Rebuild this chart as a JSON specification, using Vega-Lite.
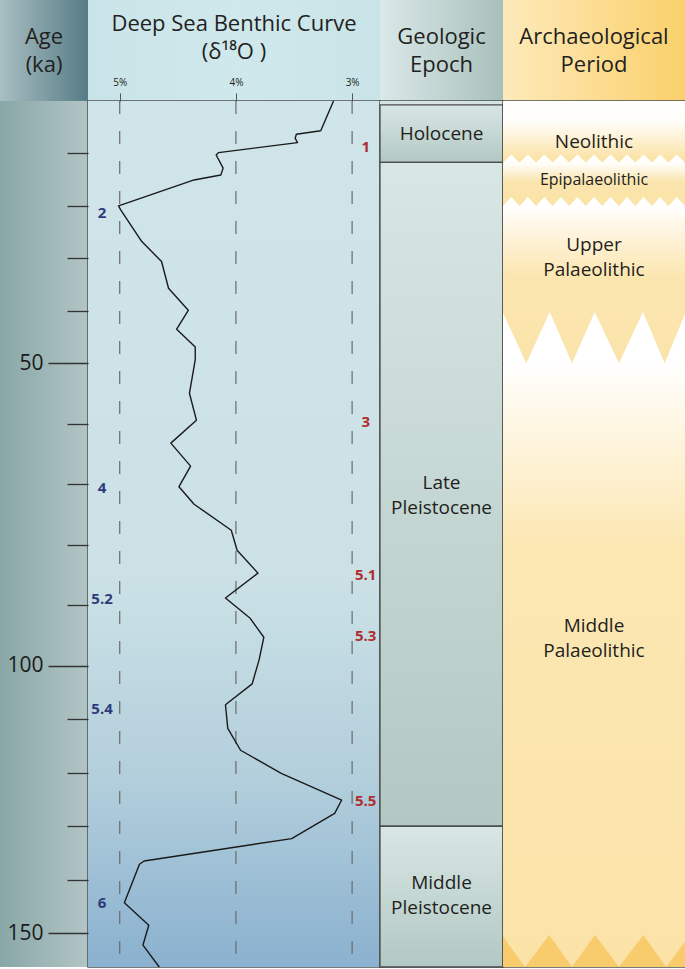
{
  "$schema": "https://vega.github.io/schema/vega-lite/v6.json",
  "padding": 0,
  "background": "#ffffff",
  "columns": 4,
  "spacing": 0,
  "bounds": "flush",
  "align": "each",
  "config": {
    "view": {"stroke": "#4d4d4d", "strokeWidth": 1.5},
    "text": {"font": "Open Sans", "color": "#231f20"},
    "axis": {"labelFont": "Open Sans"}
  },
  "concat": [
    {
      "width": 88, "height": 101,
      "data": {"values": [{"t": "Age", "n": 1}, {"t": "(ka)", "n": 2}]},
      "layer": [
        {"transform": [{"filter": "datum.n === 1"}], "mark": {"type": "rect", "fill": {"gradient": "linear", "x1": 0, "y1": 0, "x2": 1, "y2": 0, "stops": [{"offset": 0, "color": "#a9bfc3"}, {"offset": 1, "color": "#567c85"}]}}, "encoding": {}},
        {"transform": [{"filter": "datum.n === 1"}], "mark": {"type": "text", "fontSize": 22, "align": "center", "baseline": "middle", "dy": -13.5}, "encoding": {"text": {"field": "t"}}},
        {"transform": [{"filter": "datum.n === 2"}], "mark": {"type": "text", "fontSize": 22, "align": "center", "baseline": "middle", "dy": 14.5}, "encoding": {"text": {"field": "t"}}}
      ]
    },
    {
      "width": 292, "height": 101,
      "data": {"values": [{"t": "Deep Sea Benthic Curve", "n": 1}, {"t": "(δ¹⁸O )", "n": 2}]},
      "layer": [
        {"transform": [{"filter": "datum.n === 1"}], "mark": {"type": "rect", "fill": {"gradient": "linear", "x1": 0, "y1": 0, "x2": 1, "y2": 0, "stops": [{"offset": 0, "color": "#c9e4e8"}, {"offset": 0.5, "color": "#cfe8ec"}, {"offset": 1, "color": "#c9e4e8"}]}}, "encoding": {}},
        {"transform": [{"filter": "datum.n === 1"}], "mark": {"type": "text", "fontSize": 22, "align": "center", "baseline": "middle", "dy": -26.5}, "encoding": {"text": {"field": "t"}}},
        {"transform": [{"filter": "datum.n === 2"}], "mark": {"type": "text", "fontSize": 22, "align": "center", "baseline": "middle", "dy": 1.5}, "encoding": {"text": {"field": "t"}}}
      ]
    },
    {
      "width": 123, "height": 101,
      "data": {"values": [{"t": "Geologic", "n": 1}, {"t": "Epoch", "n": 2}]},
      "layer": [
        {"transform": [{"filter": "datum.n === 1"}], "mark": {"type": "rect", "fill": {"gradient": "linear", "x1": 0, "y1": 0, "x2": 1, "y2": 0, "stops": [{"offset": 0, "color": "#dae9e9"}, {"offset": 1, "color": "#a8c0bb"}]}}, "encoding": {}},
        {"transform": [{"filter": "datum.n === 1"}], "mark": {"type": "text", "fontSize": 22, "align": "center", "baseline": "middle", "dy": -13.5}, "encoding": {"text": {"field": "t"}}},
        {"transform": [{"filter": "datum.n === 2"}], "mark": {"type": "text", "fontSize": 22, "align": "center", "baseline": "middle", "dy": 14.5}, "encoding": {"text": {"field": "t"}}}
      ]
    },
    {
      "width": 182, "height": 101,
      "data": {"values": [{"t": "Archaeological", "n": 1}, {"t": "Period", "n": 2}]},
      "layer": [
        {"transform": [{"filter": "datum.n === 1"}], "mark": {"type": "rect", "fill": {"gradient": "linear", "x1": 0, "y1": 0, "x2": 1, "y2": 0, "stops": [{"offset": 0, "color": "#fdeabb"}, {"offset": 1, "color": "#fad06b"}]}}, "encoding": {}},
        {"transform": [{"filter": "datum.n === 1"}], "mark": {"type": "text", "fontSize": 22, "align": "center", "baseline": "middle", "dy": -13.5}, "encoding": {"text": {"field": "t"}}},
        {"transform": [{"filter": "datum.n === 2"}], "mark": {"type": "text", "fontSize": 22, "align": "center", "baseline": "middle", "dy": 14.5}, "encoding": {"text": {"field": "t"}}}
      ]
    },
    {
      "width": 88, "height": 866,
      "data": {"values": [{"k": 0}]},
      "mark": {"type": "rect", "fill": {"gradient": "linear", "x1": 0, "y1": 0, "x2": 1, "y2": 0, "stops": [{"offset": 0, "color": "#88a7a6"}, {"offset": 1, "color": "#b2c4c6"}]}},
      "encoding": {}
    },
    {
      "width": 292, "height": 866,
      "layer": [
        {"data": {"values": [{"k": 0}]}, "mark": {"type": "rect", "fill": {"gradient": "linear", "x1": 0, "y1": 0, "x2": 0, "y2": 1, "stops": [{"offset": 0, "color": "#cfe5e9"}, {"offset": 0.55, "color": "#cbe1e6"}, {"offset": 0.78, "color": "#b3cfdc"}, {"offset": 1, "color": "#8ab1cf"}]}}, "encoding": {}},
        {"data": {"values": [{"d18O": 5}, {"d18O": 4}, {"d18O": 3}]},
         "mark": {"type": "rule", "color": "#6b6b6b", "strokeWidth": 1.2, "strokeDash": [13, 17]},
         "encoding": {"x": {"field": "d18O", "type": "quantitative", "scale": {"domain": [2.76, 5.273], "reverse": true, "nice": false, "zero": false},
                 "axis": {"orient": "top", "values": [5, 4, 3], "labelExpr": "datum.value + '%'", "tickSize": 8, "tickColor": "#555555", "tickWidth": 1, "labelPadding": 6, "labelFontSize": 10, "labelColor": "#231f20", "domain": false, "grid": false, "title": null, "labelFlush": false, "zindex": 2}}}},
        {"data": {"values": [
          {"age": 0, "d18O": 3.16}, {"age": 5.66, "d18O": 3.27}, {"age": 6.35, "d18O": 3.48}, {"age": 7.1, "d18O": 3.49},
          {"age": 7.94, "d18O": 3.47}, {"age": 9.84, "d18O": 4.15}, {"age": 10.3, "d18O": 4.17}, {"age": 12.8, "d18O": 4.11},
          {"age": 14.1, "d18O": 4.13}, {"age": 15.05, "d18O": 4.36}, {"age": 20.0, "d18O": 5.01}, {"age": 20.8, "d18O": 4.99},
          {"age": 26.8, "d18O": 4.81}, {"age": 30.6, "d18O": 4.64}, {"age": 35.7, "d18O": 4.58}, {"age": 39.9, "d18O": 4.41},
          {"age": 43.5, "d18O": 4.51}, {"age": 46.9, "d18O": 4.35}, {"age": 49.3, "d18O": 4.35}, {"age": 54.96, "d18O": 4.4},
          {"age": 59.4, "d18O": 4.34}, {"age": 63.2, "d18O": 4.56}, {"age": 67.0, "d18O": 4.39}, {"age": 70.4, "d18O": 4.49},
          {"age": 73.3, "d18O": 4.36}, {"age": 77.6, "d18O": 4.04}, {"age": 80.9, "d18O": 3.99}, {"age": 84.7, "d18O": 3.81},
          {"age": 88.8, "d18O": 4.09}, {"age": 92.1, "d18O": 3.88}, {"age": 95.3, "d18O": 3.76}, {"age": 99.0, "d18O": 3.8},
          {"age": 103.4, "d18O": 3.86}, {"age": 107.3, "d18O": 4.09}, {"age": 111.7, "d18O": 4.07}, {"age": 115.8, "d18O": 3.96},
          {"age": 120.1, "d18O": 3.61}, {"age": 125.1, "d18O": 3.09}, {"age": 127.6, "d18O": 3.15}, {"age": 132.3, "d18O": 3.52},
          {"age": 136.5, "d18O": 4.79}, {"age": 137.1, "d18O": 4.83}, {"age": 144.3, "d18O": 4.96}, {"age": 148.5, "d18O": 4.75},
          {"age": 152.2, "d18O": 4.8}, {"age": 156.3, "d18O": 4.66}
         ]},
         "mark": {"type": "line", "color": "#1a1a1a", "strokeWidth": 1.4, "strokeJoin": "round"},
         "encoding": {
           "x": {"field": "d18O", "type": "quantitative", "scale": {"domain": [2.76, 5.273], "reverse": true, "nice": false, "zero": false},
                 "axis": {"orient": "top", "values": [5, 4, 3], "labelExpr": "datum.value + '%'", "tickSize": 8, "tickColor": "#555555", "tickWidth": 1, "labelPadding": 6, "labelFontSize": 10, "labelColor": "#231f20", "domain": false, "grid": false, "title": null, "labelFlush": false, "zindex": 2}},
           "y": {"field": "age", "type": "quantitative", "scale": {"domain": [0, 50, 100, 150, 156.3], "range": [0, 262.3, 564.7, 832.3, 866], "nice": false, "zero": false},
                 "axis": {"orient": "left", "values": [10, 20, 30, 40, 50, 60, 70, 80, 90, 100, 110, 120, 130, 140, 150], "labelExpr": "datum.value % 50 === 0 ? datum.label : ''", "tickSize": {"condition": {"test": "datum.value % 50 === 0", "value": 40}, "value": 21}, "tickColor": "#333333", "tickWidth": 1.3, "labelPadding": 5, "labelFontSize": 21, "labelColor": "#1a1a1a", "domain": false, "grid": false, "title": null, "labelFlush": false, "labelOverlap": false, "zindex": 2}},
           "order": {"field": "age", "type": "quantitative"}
         }},
        {"data": {"values": [
          {"label": "1", "age": 8.8, "d18O": 2.883, "kind": "warm"},
          {"label": "2", "age": 21.3, "d18O": 5.152, "kind": "cold"},
          {"label": "3", "age": 59.75, "d18O": 2.883, "kind": "warm"},
          {"label": "4", "age": 70.6, "d18O": 5.152, "kind": "cold"},
          {"label": "5.1", "age": 85.0, "d18O": 2.883, "kind": "warm"},
          {"label": "5.2", "age": 89.0, "d18O": 5.152, "kind": "cold"},
          {"label": "5.3", "age": 95.1, "d18O": 2.883, "kind": "warm"},
          {"label": "5.4", "age": 108.1, "d18O": 5.152, "kind": "cold"},
          {"label": "5.5", "age": 125.2, "d18O": 2.883, "kind": "warm"},
          {"label": "6", "age": 144.4, "d18O": 5.152, "kind": "cold"}
         ]},
         "mark": {"type": "text", "fontWeight": "bold", "fontSize": 15, "align": "center", "baseline": "middle"},
         "encoding": {
           "x": {"field": "d18O", "type": "quantitative", "scale": {"domain": [2.76, 5.273], "reverse": true, "nice": false, "zero": false},
                 "axis": {"orient": "top", "values": [5, 4, 3], "labelExpr": "datum.value + '%'", "tickSize": 8, "tickColor": "#555555", "tickWidth": 1, "labelPadding": 6, "labelFontSize": 10, "labelColor": "#231f20", "domain": false, "grid": false, "title": null, "labelFlush": false, "zindex": 2}},
           "y": {"field": "age", "type": "quantitative", "scale": {"domain": [0, 50, 100, 150, 156.3], "range": [0, 262.3, 564.7, 832.3, 866], "nice": false, "zero": false},
                 "axis": {"orient": "left", "values": [10, 20, 30, 40, 50, 60, 70, 80, 90, 100, 110, 120, 130, 140, 150], "labelExpr": "datum.value % 50 === 0 ? datum.label : ''", "tickSize": {"condition": {"test": "datum.value % 50 === 0", "value": 40}, "value": 21}, "tickColor": "#333333", "tickWidth": 1.3, "labelPadding": 5, "labelFontSize": 21, "labelColor": "#1a1a1a", "domain": false, "grid": false, "title": null, "labelFlush": false, "labelOverlap": false, "zindex": 2}},
           "text": {"field": "label"},
           "color": {"field": "kind", "type": "nominal", "scale": {"domain": ["warm", "cold"], "range": ["#b02e2e", "#2e3b7b"]}, "legend": null}
         }}
      ]
    },
    {
      "width": 123, "height": 866,
      "layer": [
        {"data": {"values": [{"k": 0}]}, "mark": {"type": "rect", "fill": "#d6e4e3"}, "encoding": {}},
        {"data": {"values": [
          {"epoch": "Holocene", "start": 0.75, "end": 11.7},
          {"epoch": "Late Pleistocene", "start": 11.7, "end": 130},
          {"epoch": "Middle Pleistocene", "start": 130, "end": 156.3}
         ]},
         "mark": {"type": "rect", "stroke": "#4d4d4d", "strokeWidth": 1.3, "fill": {"gradient": "linear", "x1": 0, "y1": 0, "x2": 0, "y2": 1, "stops": [{"offset": 0, "color": "#d8e6e4"}, {"offset": 1, "color": "#b2c8c3"}]}},
         "encoding": {
           "y": {"field": "start", "type": "quantitative", "scale": {"domain": [0, 50, 100, 150, 156.3], "range": [0, 262.3, 564.7, 832.3, 866], "nice": false, "zero": false}, "axis": null},
           "y2": {"field": "end"}
         }},
        {"data": {"values": [
          {"name": "Holocene", "age": 6.2},
          {"name": "Late\nPleistocene", "age": 69.8},
          {"name": "Middle\nPleistocene", "age": 140.6}
         ]},
         "mark": {"type": "text", "fontSize": 19, "lineBreak": "\n", "lineHeight": 25, "align": "center", "baseline": "middle"},
         "encoding": {
           "y": {"field": "age", "type": "quantitative", "scale": {"domain": [0, 50, 100, 150, 156.3], "range": [0, 262.3, 564.7, 832.3, 866], "nice": false, "zero": false}, "axis": null},
           "text": {"field": "name"}
         }}
      ]
    },
    {
      "width": 182, "height": 866,
      "layer": [
        {"data": {"values": [{"period": "Neolithic", "start": 0, "end": 11.7}]},
         "mark": {"type": "rect", "fill": {"gradient": "linear", "x1": 0, "y1": 0, "x2": 0, "y2": 1, "stops": [{"offset": 0, "color": "#ffffff"}, {"offset": 0.35, "color": "#fffdf8"}, {"offset": 0.95, "color": "#fbe3a6"}, {"offset": 1, "color": "#fbe3a6"}]}},
         "encoding": {"y": {"field": "start", "type": "quantitative", "scale": {"domain": [0, 50, 100, 150, 156.3], "range": [0, 262.3, 564.7, 832.3, 866], "nice": false, "zero": false}, "axis": null}, "y2": {"field": "end"}}},
        {"data": {"values": [{"period": "Epipalaeolithic", "start": 11.7, "end": 20}]},
         "mark": {"type": "rect", "fill": {"gradient": "linear", "x1": 0, "y1": 0, "x2": 0, "y2": 1, "stops": [{"offset": 0, "color": "#ffffff"}, {"offset": 0.45, "color": "#fbe5ae"}, {"offset": 1, "color": "#fbe3a6"}]}},
         "encoding": {"y": {"field": "start", "type": "quantitative", "scale": {"domain": [0, 50, 100, 150, 156.3], "range": [0, 262.3, 564.7, 832.3, 866], "nice": false, "zero": false}, "axis": null}, "y2": {"field": "end"}}},
        {"data": {"values": [{"period": "Upper Palaeolithic", "start": 20, "end": 50}]},
         "mark": {"type": "rect", "fill": {"gradient": "linear", "x1": 0, "y1": 0, "x2": 0, "y2": 1, "stops": [{"offset": 0, "color": "#ffffff"}, {"offset": 0.1, "color": "#fff8ea"}, {"offset": 0.45, "color": "#fce6b0"}, {"offset": 1, "color": "#fbe4ab"}]}},
         "encoding": {"y": {"field": "start", "type": "quantitative", "scale": {"domain": [0, 50, 100, 150, 156.3], "range": [0, 262.3, 564.7, 832.3, 866], "nice": false, "zero": false}, "axis": null}, "y2": {"field": "end"}}},
        {"data": {"values": [{"period": "Middle Palaeolithic", "start": 50, "end": 156.3}]},
         "mark": {"type": "rect", "fill": {"gradient": "linear", "x1": 0, "y1": 0, "x2": 0, "y2": 1, "stops": [{"offset": 0, "color": "#ffffff"}, {"offset": 0.03, "color": "#fffcf5"}, {"offset": 0.3, "color": "#fce7b3"}, {"offset": 1, "color": "#fbe3a8"}]}},
         "encoding": {"y": {"field": "start", "type": "quantitative", "scale": {"domain": [0, 50, 100, 150, 156.3], "range": [0, 262.3, 564.7, 832.3, 866], "nice": false, "zero": false}, "axis": null}, "y2": {"field": "end"}}},
        {"data": {"values": [
          {"zig": "n", "pos": 0, "age": 11.7, "base": 11.7}, {"zig": "n", "pos": 4.545, "age": 10.2, "base": 11.7},
          {"zig": "n", "pos": 9.091, "age": 11.7, "base": 11.7}, {"zig": "n", "pos": 13.636, "age": 10.2, "base": 11.7},
          {"zig": "n", "pos": 18.182, "age": 11.7, "base": 11.7}, {"zig": "n", "pos": 22.727, "age": 10.2, "base": 11.7},
          {"zig": "n", "pos": 27.273, "age": 11.7, "base": 11.7}, {"zig": "n", "pos": 31.818, "age": 10.2, "base": 11.7},
          {"zig": "n", "pos": 36.364, "age": 11.7, "base": 11.7}, {"zig": "n", "pos": 40.909, "age": 10.2, "base": 11.7},
          {"zig": "n", "pos": 45.455, "age": 11.7, "base": 11.7}, {"zig": "n", "pos": 50, "age": 10.2, "base": 11.7},
          {"zig": "n", "pos": 54.545, "age": 11.7, "base": 11.7}, {"zig": "n", "pos": 59.091, "age": 10.2, "base": 11.7},
          {"zig": "n", "pos": 63.636, "age": 11.7, "base": 11.7}, {"zig": "n", "pos": 68.182, "age": 10.2, "base": 11.7},
          {"zig": "n", "pos": 72.727, "age": 11.7, "base": 11.7}, {"zig": "n", "pos": 77.273, "age": 10.2, "base": 11.7},
          {"zig": "n", "pos": 81.818, "age": 11.7, "base": 11.7}, {"zig": "n", "pos": 86.364, "age": 10.2, "base": 11.7},
          {"zig": "n", "pos": 90.909, "age": 11.7, "base": 11.7}, {"zig": "n", "pos": 95.455, "age": 10.2, "base": 11.7},
          {"zig": "n", "pos": 100, "age": 11.7, "base": 11.7},
          {"zig": "e", "pos": 0, "age": 20, "base": 20}, {"zig": "e", "pos": 4.545, "age": 18.3, "base": 20},
          {"zig": "e", "pos": 9.091, "age": 20, "base": 20}, {"zig": "e", "pos": 13.636, "age": 18.3, "base": 20},
          {"zig": "e", "pos": 18.182, "age": 20, "base": 20}, {"zig": "e", "pos": 22.727, "age": 18.3, "base": 20},
          {"zig": "e", "pos": 27.273, "age": 20, "base": 20}, {"zig": "e", "pos": 31.818, "age": 18.3, "base": 20},
          {"zig": "e", "pos": 36.364, "age": 20, "base": 20}, {"zig": "e", "pos": 40.909, "age": 18.3, "base": 20},
          {"zig": "e", "pos": 45.455, "age": 20, "base": 20}, {"zig": "e", "pos": 50, "age": 18.3, "base": 20},
          {"zig": "e", "pos": 54.545, "age": 20, "base": 20}, {"zig": "e", "pos": 59.091, "age": 18.3, "base": 20},
          {"zig": "e", "pos": 63.636, "age": 20, "base": 20}, {"zig": "e", "pos": 68.182, "age": 18.3, "base": 20},
          {"zig": "e", "pos": 72.727, "age": 20, "base": 20}, {"zig": "e", "pos": 77.273, "age": 18.3, "base": 20},
          {"zig": "e", "pos": 81.818, "age": 20, "base": 20}, {"zig": "e", "pos": 86.364, "age": 18.3, "base": 20},
          {"zig": "e", "pos": 90.909, "age": 20, "base": 20}, {"zig": "e", "pos": 95.455, "age": 18.3, "base": 20},
          {"zig": "e", "pos": 100, "age": 20, "base": 20},
          {"zig": "u", "pos": 0, "age": 40.4, "base": 50}, {"zig": "u", "pos": 12.8, "age": 50, "base": 50},
          {"zig": "u", "pos": 25.7, "age": 40.2, "base": 50}, {"zig": "u", "pos": 37.9, "age": 50, "base": 50},
          {"zig": "u", "pos": 50.4, "age": 40.2, "base": 50}, {"zig": "u", "pos": 63.7, "age": 50, "base": 50},
          {"zig": "u", "pos": 76.9, "age": 40.2, "base": 50}, {"zig": "u", "pos": 88.8, "age": 50, "base": 50},
          {"zig": "u", "pos": 100, "age": 40.6, "base": 50}
         ]},
         "mark": {"type": "area", "color": "#ffffff", "opacity": 1, "interpolate": "linear"},
         "encoding": {
           "x": {"field": "pos", "type": "quantitative", "scale": {"domain": [0, 100], "nice": false, "zero": false}, "axis": null},
           "y": {"field": "age", "type": "quantitative", "scale": {"domain": [0, 50, 100, 150, 156.3], "range": [0, 262.3, 564.7, 832.3, 866], "nice": false, "zero": false}, "axis": null},
           "y2": {"field": "base"},
           "detail": {"field": "zig"}
         }},
        {"data": {"values": [
          {"pos": 0, "age": 150.6, "base": 156.3}, {"pos": 12.1, "age": 156.3, "base": 156.3},
          {"pos": 25.4, "age": 150.3, "base": 156.3}, {"pos": 37.9, "age": 156.3, "base": 156.3},
          {"pos": 50.5, "age": 150.3, "base": 156.3}, {"pos": 63.7, "age": 156.3, "base": 156.3},
          {"pos": 77.1, "age": 150.3, "base": 156.3}, {"pos": 89.6, "age": 156.3, "base": 156.3},
          {"pos": 100, "age": 151.6, "base": 156.3}
         ]},
         "mark": {"type": "area", "color": "#f8cb6c", "opacity": 1, "interpolate": "linear"},
         "encoding": {
           "x": {"field": "pos", "type": "quantitative", "scale": {"domain": [0, 100], "nice": false, "zero": false}, "axis": null},
           "y": {"field": "age", "type": "quantitative", "scale": {"domain": [0, 50, 100, 150, 156.3], "range": [0, 262.3, 564.7, 832.3, 866], "nice": false, "zero": false}, "axis": null},
           "y2": {"field": "base"}
         }},
        {"data": {"values": [
          {"name": "Neolithic", "age": 7.8, "size": 19},
          {"name": "Epipalaeolithic", "age": 15.06, "size": 16},
          {"name": "Upper\nPalaeolithic", "age": 27.45, "size": 19},
          {"name": "Middle\nPalaeolithic", "age": 93.4, "size": 19}
         ]},
         "mark": {"type": "text", "lineBreak": "\n", "lineHeight": 25, "align": "center", "baseline": "middle"},
         "encoding": {
           "y": {"field": "age", "type": "quantitative", "scale": {"domain": [0, 50, 100, 150, 156.3], "range": [0, 262.3, 564.7, 832.3, 866], "nice": false, "zero": false}, "axis": null},
           "text": {"field": "name"},
           "size": {"field": "size", "type": "quantitative", "scale": null}
         }}
      ]
    }
  ]
}
